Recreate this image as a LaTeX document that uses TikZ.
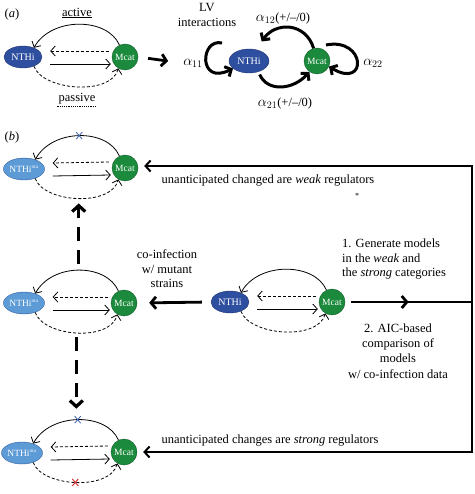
\documentclass[tikz,border=0pt]{standalone}
\usepackage{fontspec}
\setmainfont{Liberation Serif}
\usetikzlibrary{arrows.meta,decorations.markings,calc,shapes.geometric}
\definecolor{nthidark}{HTML}{2E4FA0}
\definecolor{nthiedge}{HTML}{1F3570}
\definecolor{nthilight}{HTML}{5C9BD6}
\definecolor{lightedge}{HTML}{2F5E9E}
\definecolor{mcatgreen}{HTML}{1B8A3C}
\definecolor{mcatedge}{HTML}{0E5A25}
\definecolor{xblue}{HTML}{4A6CB5}
\definecolor{xred}{HTML}{D02828}
\newcommand\mymodel[5]{%
  \node[#4] (#1N) at #2 {#5};
  \node[mcat] (#1M) at #3 {Mcat};
  \draw[thinarr] (#1M.115) .. controls +(-12,-28) and +(17,-31) .. (#1N.40) coordinate[pos=0.5] (#1A);
  \draw[thinarr,thindash] (#1N.-40) .. controls +(8,24) and +(-8,28) .. (#1M.-120) coordinate[pos=0.5] (#1P);
  \draw[thinarr,thindash] ([shift={(-3,-6)}]#1M.west) -- ([shift={(8,-6)}]#1N.east);
  \draw[thinarr] ([shift={(8,7)}]#1N.east) -- ([shift={(-1,7)}]#1M.west);
}
\begin{document}
\begin{tikzpicture}[x=1pt,y=-1pt,
  font=\fontsize{12.5}{14.5}\selectfont,
  nthi/.style={ellipse,draw=nthiedge,fill=nthidark,text=white,minimum width=38pt,minimum height=22pt,inner sep=0pt,font=\fontsize{10}{10}\selectfont},
  nthimu/.style={nthi,draw=lightedge,fill=nthilight,font=\fontsize{9.5}{10}\selectfont},
  mcat/.style={circle,draw=mcatedge,fill=mcatgreen,text=white,minimum size=26pt,inner sep=0pt,font=\fontsize{9.5}{10}\selectfont},
  thinarr/.style={-{Straight Barb[length=4.5pt,width=10pt]},line width=0.8pt},
  thindash/.style={dash pattern=on 3pt off 2pt},
  lvarr/.style={-{Straight Barb[length=5pt,width=11pt]},line width=3pt},
  bigarr/.style={-{Straight Barb[length=5pt,width=12pt]},line width=2.8pt},
  bigdash/.style={-{Straight Barb[length=6pt,width=13pt]},line width=3.2pt,dash pattern=on 14pt off 9pt},
  frame/.style={line width=2pt,{Straight Barb[length=5pt,width=11pt]}-{Straight Barb[length=5pt,width=11pt]}},
  xmark/.style={line width=0.9pt},
  txt/.style={inner sep=1pt,align=center},
  alab/.style={inner sep=1pt,font=\fontsize{14}{14}\selectfont}
]
\useasboundingbox (0,0) rectangle (474,494);

% ---------- panel (a)
\node[txt] (la) at (12,14) {(\textit{a})};
\mymodel{a}{(23,57)}{(125,57)}{nthi}{NTHi}
\node[txt] (active) at (77,13) {\underline{active}};
\node[txt] (passive) at (77,99) {passive};
\draw[line width=0.6pt,dash pattern=on 1.2pt off 1pt] ([yshift=-1pt]passive.south west) -- ([yshift=-1pt]passive.south east);

\node[txt] (lv) at (207,15) {LV\\interactions};
\node[nthi,minimum width=40pt,minimum height=24pt] (LN) at (249,61) {NTHi};
\node[mcat] (LM) at (317,61) {Mcat};
\node[alab] (a11) at (193,63) {$\alpha_{11}$};
\node[alab] (a22) at (373,63) {$\alpha_{22}$};
\node[alab] (a12) at (283,18) {$\alpha_{12}$\fontsize{12.5}{14}\selectfont(+/–/0)};
\node[alab] (a21) at (285,103) {$\alpha_{21}$\fontsize{12.5}{14}\selectfont(+/–/0)};
\draw[bigarr,shorten <=10pt,shorten >=14pt] (aM.east) -- (a11.west);
\draw[lvarr] (LM.105) .. controls +(-8,-26) and +(14,-20) .. ([shift={(6,-8)}]LN.60);
\draw[lvarr] ([shift={(4,2)}]LN.-60) .. controls +(8,18) and +(-16,18) .. (LM.-125);
\coordinate (l1) at (222,43);
\draw[lvarr] (l1) .. controls (200,38) and (198,86) .. (LN.205);
\coordinate (l2) at (326,45);
\draw[lvarr] (l2) .. controls (366,37) and (368,90) .. (LM.-25);

% ---------- panel (b)
\node[txt] (lb) at (12,137) {(\textit{b})};
\mymodel{t}{(24,169)}{(125,168)}{nthimu}{NTHi\textsuperscript{\fontsize{5}{5}\selectfont mu}}
\mymodel{m}{(24,303)}{(124,303)}{nthimu}{NTHi\textsuperscript{\fontsize{5}{5}\selectfont mu}}
\mymodel{b}{(22,453)}{(124,452)}{nthimu}{NTHi\textsuperscript{\fontsize{5}{5}\selectfont mu}}
\mymodel{r}{(230,302)}{(332,302)}{nthi}{NTHi}

% x marks
\draw[xmark,xblue] ($(tA)+(-3,-3.5)$) -- ($(tA)+(3,3.5)$) ($(tA)+(3,-3.5)$) -- ($(tA)+(-3,3.5)$);
\draw[xmark,xblue] ($(bA)+(-3,-3.5)$) -- ($(bA)+(3,3.5)$) ($(bA)+(3,-3.5)$) -- ($(bA)+(-3,3.5)$);
\draw[xmark,xred] ($(bP)+(-3,-3.5)$) -- ($(bP)+(3,3.5)$) ($(bP)+(3,-3.5)$) -- ($(bP)+(-3,3.5)$);

% vertical dashed arrows
\draw[bigdash,shorten <=6pt,shorten >=5pt] (mA) -- (mA |- tP);
\draw[bigdash,shorten <=4pt,shorten >=11pt] (mP) -- (mP |- bA);

% frame
\coordinate (c1) at (472,166);
\coordinate (c2) at (472,452);
\draw[frame,shorten <=6pt,shorten >=6pt] (c1 -| tM.east) -- (c1) -- (c2) -- (c2 -| bM.east);
\draw[line width=2.8pt,postaction={decorate},decoration={markings,mark=at position 0.5 with {\arrow{Straight Barb[length=5pt,width=12pt]}}},shorten <=6pt] (rM.east) -- (rM.east -| c1);
\draw[bigarr,shorten <=9pt,shorten >=12pt] (rN.west) -- (mM.east);

% texts
\node[txt] (t1) at (268,181) {unanticipated changed are \textit{weak} regulators};
\node[txt,font=\fontsize{8}{8}\selectfont] (star) at (357,196) {*};
\node[txt] (t2) at (270,441) {unanticipated changes are \textit{strong} regulators};
\node[txt] (t3) at (167,269) {co-infection\\w/ mutant\\strains};
\node[txt,align=left,anchor=west] (t4) at (341,259.5) {1. Generate models\\in the \textit{weak} and\\the \textit{strong} categories};
\node[txt,font=\fontsize{12.5}{15.3}\selectfont] (t5) at (398,351) {2. AIC-based\\comparison of\\models\\w/ co-infection data};
\end{tikzpicture}
\end{document}
